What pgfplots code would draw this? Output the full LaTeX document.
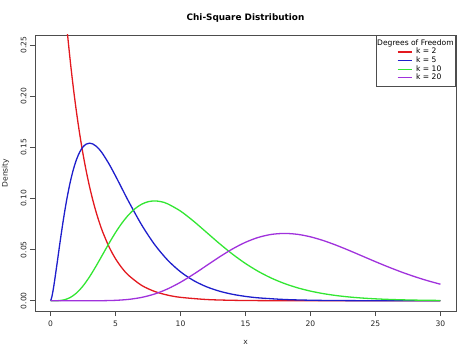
\documentclass[border=0pt]{standalone}
\usepackage{fontspec}
\setmainfont{DejaVu Sans}
\usepackage{pgfplots}
\pgfplotsset{compat=1.18}
\definecolor{cred}{HTML}{E3191F}
\definecolor{cblue}{HTML}{1E1ECC}
\definecolor{cgreen}{HTML}{33E633}
\definecolor{cpurple}{HTML}{A032DC}
\definecolor{frame}{HTML}{4D4D4D}
\begin{document}
\begin{tikzpicture}
\path[use as bounding box] (0bp,0bp) rectangle (474bp,355bp);
\begin{axis}[
  at={(35bp,44bp)}, anchor=south west,
  scale only axis, width=421bp, height=276bp,
  xmin=-1.2, xmax=31.2, ymin=-0.01, ymax=0.26,
  xtick={0,5,...,30}, ytick={0,0.05,0.1,0.15,0.2,0.25},
  xtick pos=lower, ytick pos=left,
  tick align=outside, major tick length=5bp,
  axis line style={frame, line width=0.7bp},
  every tick/.style={frame, line width=0.7bp},
  /pgf/number format/assume math mode=true,
  y tick label style={/pgf/number format/fixed, /pgf/number format/fixed zerofill, /pgf/number format/precision=2, rotate=90, anchor=south},
  x tick label style={yshift=-1.5bp},
  scaled y ticks=false,
  tick label style={font=\fontsize{7.6}{9}\selectfont, text=black!85},
  label style={font=\fontsize{7.6}{9}\selectfont, text=black!85},
  xlabel={x}, ylabel={Density},
  xlabel style={at={(rel axis cs:0.5,0)}, anchor=center, yshift=-31bp},
  ylabel style={at={(rel axis cs:0,0.5)}, anchor=center, yshift=29.5bp},
  title={Chi-Square Distribution},
  title style={at={(rel axis cs:0.5,1)}, anchor=center, yshift=11bp, font=\bfseries\fontsize{8.9}{10}\selectfont},
  legend style={at={(rel axis cs:1,1)}, anchor=north east, draw=frame, line width=0.6bp, fill=white,
    font=\fontsize{7.6}{9}\selectfont, inner xsep=1bp, inner ysep=3.5bp, row sep=-0.6bp,
    nodes={inner sep=1bp, text height=5.6bp, text depth=1.6bp}},
  legend cell align=left,
  legend image code/.code={\path (0bp,0bp) (37bp,0bp); \draw[#1, line width=1.3bp] (20bp,0bp) -- (34bp,0bp);},
  every axis plot/.append style={line width=1.3bp},
]
\addlegendimage{empty legend}
\addlegendentry{\hspace{-39bp}Degrees of Freedom}
\addplot[cred, smooth] coordinates {
(0,0.5) (0.5,0.3894) (1,0.30327) (1.25,0.26763) (1.5,0.23618) (1.75,0.20843) (2,0.18394) (2.25,0.16233)
(2.5,0.14325) (2.75,0.12642) (3,0.11157) (3.25,0.09846) (3.5,0.08689) (3.75,0.07668) (4,0.06767)
(4.5,0.0527) (5,0.04104) (5.5,0.03197) (6,0.02489) (7,0.01510) (8,0.00916) (9,0.00555) (10,0.00337)
(12,0.00124) (14,0.000456) (16,0.000168) (18,0.0000617) (20,0.0000227) (25,0.0000019) (30,0.00000015)
};
\addlegendentry{k = 2}
\addplot[cblue, smooth] coordinates {
(0,0) (0.1,0.0040) (0.25,0.01467) (0.5,0.036616) (0.75,0.059364) (1,0.080657) (1.25,0.099476) (1.5,0.115400)
(1.75,0.128333) (2,0.138369) (2.25,0.145708) (2.5,0.150602) (2.75,0.153333) (3,0.154182) (3.25,0.153421)
(3.5,0.151313) (3.75,0.148093) (4,0.143976) (4.5,0.133797) (5,0.122042) (5.5,0.109654) (6,0.097304)
(7,0.074370) (8,0.055113) (9,0.039887) (10,0.028334) (11,0.019827) (12,0.013703) (13,0.009371)
(14,0.006352) (15,0.004273) (16,0.002855) (18,0.001253) (20,0.000540) (22,0.000229) (25,0.000062) (30,0.0000067)
};
\addlegendentry{k = 5}
\addplot[cgreen, smooth] coordinates {
(0,0) (0.5,0.0000634) (1,0.000790) (1.5,0.003114) (2,0.007664) (2.5,0.014572) (3,0.023533) (3.5,0.033954)
(4,0.045112) (4.5,0.056276) (5,0.066801) (5.5,0.076170) (6,0.084016) (6.5,0.090123) (7,0.094405)
(7.5,0.096891) (8,0.097685) (8.5,0.096952) (9,0.094904) (10,0.087733) (11,0.077910) (12,0.066928)
(13,0.055910) (14,0.045613) (15,0.036458) (16,0.028626) (17,0.022128) (18,0.016869) (19,0.012702)
(20,0.009458) (21,0.006973) (22,0.005094) (23,0.003691) (24,0.002654) (25,0.001896) (26,0.001345)
(27,0.000949) (28,0.000666) (29,0.000464) (30,0.000323)
};
\addlegendentry{k = 10}
\addplot[cpurple, smooth] coordinates {
(0,0) (1,0.0000000027) (2,0.000000506) (3,0.0000118) (4,0.0000954) (5,0.000431) (6,0.001350) (7,0.003277)
(8,0.006612) (9,0.011583) (10,0.018133) (11,0.025935) (12,0.034418) (13,0.042906) (14,0.050705)
(15,0.057226) (16,0.062044) (17,0.064940) (18,0.065884) (19,0.065007) (20,0.062561) (21,0.058865)
(22,0.054267) (23,0.049106) (24,0.043683) (25,0.038258) (26,0.033036) (27,0.028140) (28,0.023679)
(29,0.019695) (30,0.016203)
};
\addlegendentry{k = 20}
\end{axis}
\end{tikzpicture}
\end{document}
